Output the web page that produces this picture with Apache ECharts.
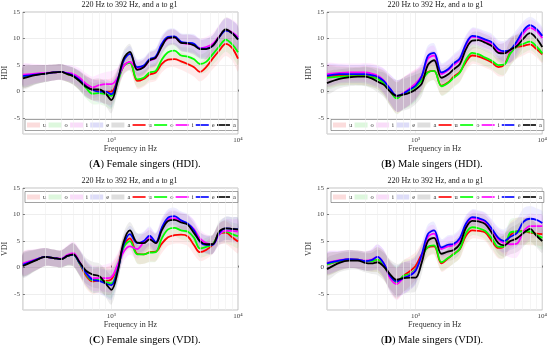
<!DOCTYPE html>
<html><head><meta charset="utf-8">
<script src="https://cdn.jsdelivr.net/npm/echarts@6/dist/echarts.min.js"></script>
<style>html,body{margin:0;padding:0;background:#fff}#c{width:550px;height:352px}</style>
</head><body><div id="c"></div>
<script>
// Frequency grid (Hz)
const freq = [200,250,300,350,400,450,500,560,630,710,800,900,1000,1120,1250,1400,1600,1800,2000,2240,2500,2800,3150,3550,4000,4500,5000,5600,6300,7100,8000,9000,10000];
const minorGrid = [300,400,500,600,700,800,900,2000,3000,4000,5000,6000,7000,8000,9000];

// (A) Female singers, HDI
const A_u = [2.8,3.2,3.4,3.6,3.7,3.3,2.9,2.1,1.1,0.3,0.2,0.0,0.0,2.2,4.9,5.5,2.0,2.4,3.2,3.6,5.2,6.0,6.1,5.7,5.2,4.6,3.7,4.6,6.2,7.7,9.0,8.2,6.2];
const A_o = [2.8,3.2,3.4,3.6,3.7,3.3,2.9,2.0,0.7,-0.4,-0.3,-0.5,-0.8,1.8,4.8,5.4,2.3,2.6,3.6,3.9,6.0,7.4,7.7,6.8,6.6,6.1,5.2,5.6,7.0,8.5,9.8,8.9,7.4];
const A_i = [3.2,3.4,3.5,3.6,3.7,3.5,3.3,2.6,1.5,0.8,1.2,1.4,1.4,2.6,4.8,5.6,4.4,4.6,5.8,6.3,8.7,10.0,10.2,9.2,9.0,8.8,8.2,8.4,9.0,10.4,11.6,11.2,10.2];
const A_e = [2.9,3.2,3.4,3.6,3.7,3.4,3.0,2.2,1.0,0.3,0.0,0.0,-0.5,2.2,5.8,7.1,4.6,4.9,6.1,6.6,9.0,10.3,10.4,9.4,9.2,9.0,8.1,8.1,8.6,10.2,11.5,11.0,9.9];
const A_a = [2.5,3.1,3.4,3.6,3.7,3.3,2.9,2.0,0.9,0.4,0.4,-0.4,-1.6,2.0,6.2,7.5,4.1,4.6,5.9,6.4,8.5,10.1,10.2,9.2,9.1,8.7,8.0,8.0,8.6,10.3,11.7,11.0,9.8];
const A_sd = [2.0,1.8,1.6,1.5,1.5,1.5,1.6,1.8,2.0,2.0,2.1,2.3,2.5,2.0,1.6,1.5,1.5,1.5,1.5,1.6,1.6,1.5,1.5,1.6,1.7,1.8,1.8,1.9,2.0,2.2,2.3,2.4,2.4];

// (B) Male singers, HDI
const B_u = [2.9,3.0,3.0,3.0,3.0,2.8,2.5,1.7,0.1,-1.2,-0.3,0.4,1.3,2.3,3.7,3.9,1.1,1.7,2.8,3.7,5.6,6.8,6.6,6.1,5.5,4.6,5.0,7.4,8.4,8.6,8.9,8.0,7.0];
const B_o = [2.6,2.8,2.9,2.9,2.9,2.7,2.4,1.6,0.1,-1.3,-0.4,0.2,0.9,2.1,3.6,3.9,1.0,1.6,2.6,3.6,6.0,7.3,7.0,6.4,5.8,5.0,5.1,7.2,8.5,9.0,9.4,8.5,7.2];
const B_i = [3.3,3.5,3.6,3.6,3.6,3.4,3.0,2.1,0.5,-0.9,-0.3,0.6,1.5,3.0,6.2,6.8,3.3,4.0,5.0,6.0,8.7,10.3,10.1,9.5,9.0,7.7,7.3,7.7,9.0,11.0,12.0,11.4,10.1];
const B_e = [3.0,3.3,3.3,3.3,3.3,3.1,2.8,2.0,0.5,-0.8,-0.4,0.4,1.1,2.9,6.7,7.3,3.6,4.2,5.3,6.3,9.0,10.5,10.3,9.8,9.3,8.0,7.6,7.9,9.5,11.5,12.5,11.8,10.5];
const B_a = [1.6,2.4,2.7,2.8,2.8,2.5,1.9,1.3,0.0,-0.8,-0.6,-0.2,0.4,1.5,5.0,5.9,2.6,3.2,4.2,5.2,8.0,9.6,9.7,9.2,8.6,7.3,7.2,7.9,8.6,10.0,11.0,10.0,8.4];
const B_sd = [2.0,1.8,1.7,1.7,1.8,1.9,2.0,2.3,2.7,3.0,3.0,3.0,2.8,2.4,2.0,1.8,1.8,1.8,1.8,1.8,1.7,1.6,1.6,1.6,1.6,1.7,2.0,2.4,2.2,1.8,1.6,1.6,1.6];

// (C) Female singers, VDI
const C_u = [0.6,1.4,2.0,1.8,1.6,2.2,2.4,0.8,-1.5,-2.6,-2.4,-2.5,-2.2,0.2,4.2,5.5,2.6,2.5,2.9,3.0,4.5,5.7,6.1,6.2,5.9,4.2,2.9,3.3,4.3,6.3,6.6,5.7,4.9];
const C_o = [0.6,1.4,2.0,1.8,1.6,2.2,2.4,0.8,-1.2,-2.4,-2.2,-2.7,-3.0,-0.3,3.8,5.0,2.5,2.5,2.8,2.9,5.5,7.2,7.5,7.0,6.8,5.6,3.6,3.9,4.4,6.3,6.8,6.3,5.9];
const C_i = [0.8,1.5,2.0,1.8,1.7,2.4,2.7,1.1,-1.0,-2.0,-2.0,-2.0,-1.8,0.5,3.0,4.0,3.5,4.8,5.7,4.6,7.3,9.1,9.3,8.7,8.2,7.2,5.5,4.6,4.4,6.2,6.9,6.9,6.8];
const C_e = [0.5,1.4,2.0,1.8,1.6,2.2,2.4,0.9,-1.0,-2.3,-2.5,-3.0,-3.3,-0.5,4.3,6.3,4.6,5.0,6.0,4.8,7.5,9.4,9.7,8.9,8.3,7.0,4.9,4.3,4.3,6.5,7.4,7.3,7.2];
const C_a = [0.3,1.3,2.0,1.8,1.6,2.2,2.5,1.0,-0.6,-1.3,-1.6,-3.0,-4.2,-0.8,4.8,7.0,4.7,4.6,5.3,4.6,7.0,8.8,9.0,8.5,8.1,6.5,5.0,4.4,4.4,6.8,7.4,7.3,7.2];
const C_sd = [2.2,2.0,1.7,1.6,1.6,1.8,2.2,2.4,2.4,2.4,2.4,2.6,2.8,2.2,1.8,1.6,1.8,1.8,1.8,1.8,1.8,1.6,1.6,1.7,1.8,1.8,1.7,1.7,1.8,2.0,2.2,2.2,2.2];

// (D) Male singers, VDI
const D_u = [0.6,1.2,1.6,1.5,1.2,1.2,1.5,0.5,-1.5,-3.0,-1.6,-0.7,0.3,2.5,3.8,4.0,0.8,1.7,2.6,3.5,6.0,7.0,6.9,6.6,5.0,3.7,4.0,6.1,6.8,6.9,6.6,6.4,6.3];
const D_o = [0.6,1.2,1.6,1.5,1.2,1.2,1.5,0.5,-1.8,-2.8,-1.6,-1.2,-0.3,2.0,3.9,4.2,1.0,1.8,2.5,3.6,6.5,7.6,7.4,6.9,5.5,3.9,4.0,6.6,6.8,6.8,6.8,6.2,5.6];
const D_i = [0.9,1.4,1.6,1.5,1.3,1.5,2.0,0.8,-2.0,-3.1,-2.0,-1.4,-0.5,2.2,5.8,6.4,3.5,4.0,4.2,5.3,8.0,9.3,9.1,8.6,7.0,5.3,4.6,4.4,4.5,6.8,7.8,7.8,7.8];
const D_e = [0.8,1.3,1.6,1.5,1.2,1.4,2.0,0.8,-1.6,-2.6,-2.0,-1.5,-0.6,2.5,6.3,7.0,3.8,4.3,4.5,5.6,8.3,9.5,9.3,8.8,7.3,5.6,5.0,5.8,6.5,8.6,9.2,9.0,8.4];
const D_a = [-0.3,0.9,1.3,1.3,0.9,0.8,1.0,0.2,-1.3,-2.3,-2.0,-1.9,-1.9,1.0,5.0,5.6,2.6,3.0,3.3,4.5,7.5,8.8,8.7,8.2,6.5,4.6,4.2,5.0,5.5,6.5,7.3,6.0,5.0];
const D_sd = [2.0,1.8,1.7,1.7,1.8,2.0,2.4,2.6,2.8,3.0,3.0,2.8,2.6,2.2,1.8,1.6,1.6,1.8,1.8,1.8,1.6,1.5,1.5,1.6,1.8,2.0,2.2,2.5,2.6,2.6,2.4,2.2,2.2];

const titleText = '220 Hz to 392 Hz, and a to g1';
const vowels = ['u','o','i','e','a'];
const lineColors = {u:'#ff0000', o:'#00ff00', i:'#ff00ff', e:'#0000ff', a:'#000000'};
const bandColors = {u:'rgba(255,0,0,0.08)', o:'rgba(0,210,0,0.08)', i:'rgba(255,0,255,0.08)', e:'rgba(0,0,255,0.07)', a:'rgba(0,0,0,0.07)'};
const patchColors = {u:'#fbdcdc', o:'#ddf7dd', i:'#f9dcf9', e:'#dddcf8', a:'#dedede'};

const panels = [
  {m:{u:A_u,o:A_o,i:A_i,e:A_e,a:A_a}, sd:A_sd, left:21, top:12, ylab:'HDI', legTop:119.5, letter:'A', cap:'Female singers (HDI).', capX:145, capY:164},
  {m:{u:B_u,o:B_o,i:B_i,e:B_e,a:B_a}, sd:B_sd, left:327, top:12, ylab:'HDI', legTop:119.5, letter:'B', cap:'Male singers (HDI).', capX:432, capY:164},
  {m:{u:C_u,o:C_o,i:C_i,e:C_e,a:C_a}, sd:C_sd, left:21, top:188, ylab:'VDI', legTop:191.5, letter:'C', cap:'Female singers (VDI).', capX:145, capY:340},
  {m:{u:D_u,o:D_o,i:D_i,e:D_e,a:D_a}, sd:D_sd, left:327, top:188, ylab:'VDI', legTop:191.5, letter:'D', cap:'Male singers (VDI).', capX:432, capY:340}
];
const W = 217, H = 122;
const serif = 'Liberation Serif';

function bandRenderer(m, sd, color) {
  return function (params, api) {
    if (params.dataIndex !== 0) return null;
    const up = [], lo = [];
    for (let k = 0; k < freq.length; k++) {
      up.push(api.coord([freq[k], m[k] + sd[k]]));
      lo.push(api.coord([freq[k], m[k] - sd[k]]));
    }
    return {type:'polygon', shape:{points: up.concat(lo.reverse()), smooth:0.3}, style:{fill:color}, silent:true};
  };
}

const grids = [], xAxes = [], yAxes = [], series = [], legends = [], graphics = [];
panels.forEach((P, pi) => {
  grids.push({left:P.left, top:P.top, width:W, height:H, show:true, borderColor:'#9a9a9a', borderWidth:0.6, backgroundColor:'#fff'});
  xAxes.push({
    type:'log', logBase:10, min:200, max:10000, gridIndex:pi,
    name:'Frequency in Hz', nameLocation:'middle', nameGap:11,
    nameTextStyle:{fontFamily:serif, fontSize:8, color:'#333'},
    axisLine:{show:false}, axisTick:{inside:true, length:2, lineStyle:{color:'#777'}},
    axisLabel:{fontFamily:serif, fontSize:7, color:'#444', margin:3, showMinLabel:false,
      formatter: v => { const l = Math.log10(v); const r = Math.round(l); if (Math.abs(l-r) > 1e-6) return ''; return r===3 ? '10³' : (r===4 ? '10⁴' : ''); }},
    splitLine:{show:true, lineStyle:{color:'#e2e2e2', width:0.6}}
  });
  yAxes.push({
    type:'value', min:-8, max:15, gridIndex:pi,
    name:P.ylab, nameLocation:'middle', nameGap:12,
    nameTextStyle:{fontFamily:serif, fontSize:8, color:'#333'},
    axisLine:{show:false}, axisTick:{inside:true, length:2, lineStyle:{color:'#777'}},
    axisLabel:{fontFamily:serif, fontSize:7, color:'#444', margin:3, showMinLabel:false},
    splitLine:{show:true, lineStyle:{color:'#e2e2e2', width:0.6}}
  });
  // minor vertical grid
  series.push({
    type:'line', xAxisIndex:pi, yAxisIndex:pi, data:[], silent:true, z:0, symbol:'none',
    markLine:{silent:true, symbol:['none','none'], label:{show:false}, animation:false,
      lineStyle:{color:'#efefef', width:0.6, type:'solid'},
      data: minorGrid.map(f => ({xAxis:f}))}
  });
  vowels.forEach(v => {
    const m = P.m[v], sd = P.sd;
    series.push({
      type:'custom', name:'band'+v, xAxisIndex:pi, yAxisIndex:pi, coordinateSystem:'cartesian2d',
      clip:true, silent:true, z:1, itemStyle:{color:patchColors[v]},
      data: freq.map((f,k) => [f, m[k]-sd[k], m[k]+sd[k]]),
      encode:{x:0, y:[1,2]},
      renderItem: bandRenderer(m, sd, bandColors[v])
    });
  });
  vowels.forEach(v => {
    series.push({
      type:'line', name:v, xAxisIndex:pi, yAxisIndex:pi,
      data: freq.map((f,k) => [f, P.m[v][k]]), symbol:'none', showSymbol:false, smooth:0.35,
      lineStyle:{color:lineColors[v], width:1.8}, itemStyle:{color:lineColors[v]}, z:3
    });
  });
  legends.push({
    left:P.left+4, top:P.legTop, orient:'horizontal', selectedMode:false,
    itemWidth:13, itemHeight:5, itemGap:2.3, padding:[2,2,2,2],
    backgroundColor:'#fff', borderColor:'#444', borderWidth:0.5,
    textStyle:{fontFamily:serif, fontSize:6.5, color:'#333', padding:[0,0,0,-2]},
    formatter: n => n.charAt(n.length-1),
    data: vowels.map(v => ({name:'band'+v, icon:'rect', itemStyle:{color:patchColors[v]}}))
      .concat(vowels.map(v => ({name:v, icon:'path://M0,0h16v2h-16z', itemStyle:{color:lineColors[v]}})))
  });
  graphics.push({type:'text', x:P.left + W/2, y:P.top - 7, style:{text:titleText, fontFamily:serif, fontSize:8, fill:'#222', textAlign:'center', textVerticalAlign:'middle'}});
  graphics.push({type:'text', x:P.capX, y:P.capY, style:{
    text:'({b|' + P.letter + '}) ' + P.cap, fontFamily:serif, fontSize:10.5, fill:'#000', textAlign:'center', textVerticalAlign:'middle',
    rich:{b:{fontFamily:serif, fontSize:10.5, fontWeight:'bold', fill:'#000'}}}});
});

const chart = echarts.init(document.getElementById('c'), null, {renderer:'canvas'});
chart.setOption({
  animation:false, backgroundColor:'#fff',
  grid:grids, xAxis:xAxes, yAxis:yAxes, series:series, legend:legends, graphic:graphics
});
</script></body></html>
